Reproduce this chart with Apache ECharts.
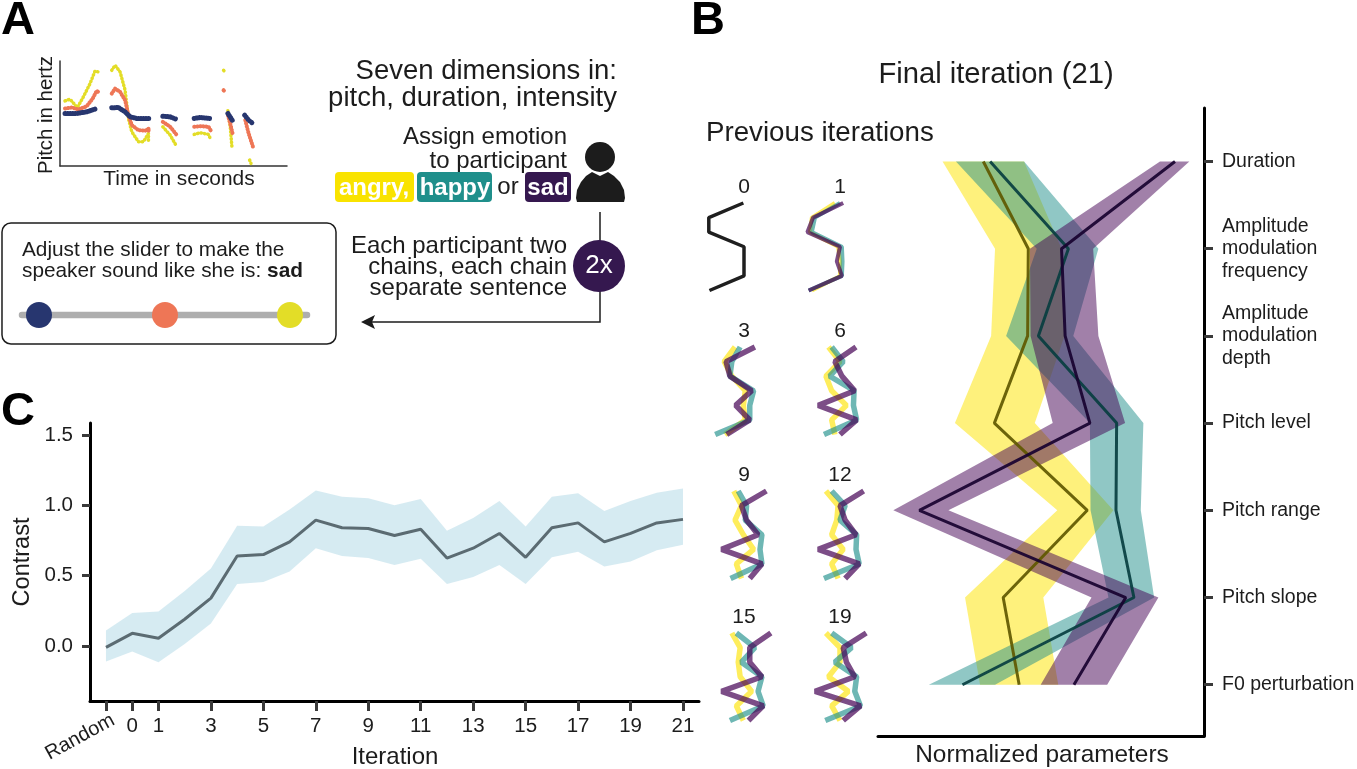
<!DOCTYPE html>
<html><head><meta charset="utf-8">
<style>html,body{margin:0;padding:0;background:#fff}#c{width:1357px;height:769px}</style>
<script src="https://cdn.jsdelivr.net/npm/echarts@6/dist/echarts.min.js"></script>
</head><body><div id="c"></div>
<script>
// ---------- Panel C ----------
const iterations=[-1,0,1,2,3,4,5,6,7,8,9,10,11,12,13,14,15,16,17,18,19,20,21];
const contrastMean=[-0.01,0.09,0.055,0.19,0.34,0.64,0.65,0.74,0.895,0.84,0.835,0.785,0.83,0.625,0.695,0.80,0.63,0.84,0.875,0.74,0.80,0.875,0.90];
const contrastHigh=[0.11,0.235,0.245,0.39,0.55,0.855,0.85,0.97,1.105,1.06,1.05,1.0,1.045,0.82,0.91,1.03,0.85,1.06,1.085,0.96,1.03,1.09,1.12];
const contrastLow=[-0.11,-0.04,-0.115,0.015,0.16,0.44,0.455,0.53,0.695,0.64,0.625,0.575,0.62,0.44,0.49,0.575,0.44,0.63,0.67,0.565,0.60,0.68,0.72];
const iterationTicks=[-1,0,1,3,5,7,9,11,13,15,17,19,21];
const contrastTicks=[0,0.5,1,1.5];
// ---------- Panel B, final iteration ----------
const parameterLabels=['Duration','Amplitude\nmodulation\nfrequency','Amplitude\nmodulation\ndepth','Pitch level','Pitch range','Pitch slope','F0 perturbation'];
const angryMean=[32.3,46.1,45.9,35.7,64.2,38.4,43.3];
const angryLow=[19.8,35.9,34.7,23.6,55.0,26.7,31.3];
const angryHigh=[44.8,56.3,57.2,48.1,72.2,50.7,55.3];
const happyMean=[34.4,58.4,49.2,73.2,73.0,78.5,25.9];
const happyLow=[23.9,48.7,39.3,65.0,65.2,70.7,15.6];
const happyHigh=[44.8,67.6,59.9,81.4,80.6,84.7,35.9];
const sadMean=[91.1,56.3,57.4,65.0,12.7,76.0,60.1];
const sadLow=[86.5,46.6,46.8,53.6,4.7,65.5,49.9];
const sadHigh=[95.5,66.0,67.6,75.8,21.6,86.0,70.3];
// ---------- Panel B, previous iterations ----------
const previousNames=['0','1','3','6','9','12','15','19'];
const prevAngry=[[49,-5,-5,50,50,50,-4],[42,6,3,47,50,50,6],[36,19,31,52,49,52,20],[32,50,28,37,60,37,42],[34,46,36,49,65,38,46],[28,47,45,37,55,37,47],[31,44,41,44,62,38,49],[28,50,50,32,63,37,50]];
const prevHappy=[[49,-5,-5,50,50,50,-4],[50,11,6,53,54,53,1],[44,31,28,65,59,59,5],[37,55,34,72,71,76,25],[41,54,52,78,75,78,29],[37,58,50,76,75,80,25],[38,67,46,78,72,80,28],[37,68,42,76,73,82,27]];
const prevSad=[[49,-5,-5,50,50,50,-4],[55,8,-1,50,45,53,1],[67,22,28,62,37,59,23],[75,42,53,73,16,76,50],[85,46,54,72,15,78,59],[87,50,58,75,16,80,58],[92,59,59,78,15,80,57],[91,55,60,73,11,82,55]];
// ---------- Panel A, pitch contours: time (s), pitch (Hz), contiguous voiced segments ----------
const pitchHigh=[
 [[.075,196],[.15,201],[.26,176],[.35,208],[.45,248],[.525,286],[.575,283]],
 [[.775,288],[.825,303],[.9,283],[.975,228],[1.025,143],[1.075,103],[1.175,73],[1.25,73],[1.325,98],[1.325,73]],
 [[1.54,118],[1.65,93],[1.75,58]],[[2.01,95],[2.1,100],[2.225,95],[2.26,78]],
 [[2.45,288],[2.46,286]],[[2.515,166],[2.55,118],[2.575,58]],[[2.84,18],[2.86,8]]];
const pitchMid=[
 [[.075,173],[.175,176],[.275,170],[.4,180],[.49,203],[.55,226],[.575,223]],
 [[.775,218],[.825,233],[.9,223],[.975,198],[1.025,153],[1.075,123],[1.175,108],[1.275,106],[1.335,113],[1.325,106]],
 [[1.54,133],[1.65,118],[1.75,93]],[[2.01,118],[2.1,120],[2.225,118],[2.26,106]],
 [[2.45,228],[2.46,226]],[[2.515,153],[2.55,128],[2.585,98]],[[2.775,138],[2.825,98],[2.89,58]]];
const pitchLow=[
 [[.075,158],[.25,158],[.4,163],[.55,173]],
 [[.775,175],[.875,176],[.975,163],[1.05,148],[1.15,143],[1.35,143]],
 [[1.54,150],[1.65,148],[1.75,140]],[[2.01,143],[2.1,146],[2.25,143]],
 [[2.515,158],[2.585,136]],[[2.765,153],[2.825,138],[2.89,128]]];

const FONT='"Liberation Sans",Arial,sans-serif';
const INK='#1c1c1c';
const gapped=segs=>{const o=[];segs.forEach((s,i)=>{if(i)o.push([NaN,NaN]);o.push(...s)});return o};
function txt(text,x,y,size,o={}){return Object.assign({type:'text',silent:true,style:{text,x,y,fontSize:size,fontFamily:FONT,fontWeight:o.weight||'normal',fill:o.fill||INK,textAlign:o.align||'left',textVerticalAlign:'middle',rich:o.rich}},o.rotation!==undefined?{rotation:o.rotation,x:x,y:y,style:{text,x:0,y:0,fontSize:size,fontFamily:FONT,fill:o.fill||INK,textAlign:o.align||'center',textVerticalAlign:'middle'}}:{})}
function pill(x,y,w,h,fill,label,tx){return [
 {type:'rect',silent:true,shape:{x,y,width:w,height:h,r:4},style:{fill}},
 txt(label,tx,y+h/2+1,24,{weight:'bold',fill:'#fff',align:'center'})]}

const graphics=[
 txt('A',1,21,47,{weight:'bold',fill:'#000'}),txt('B',691,21,47,{weight:'bold',fill:'#000'}),txt('C',1,412,47,{weight:'bold',fill:'#000'}),
 txt('Pitch in hertz',46,115,20.4,{rotation:Math.PI/2}),
 txt('Time in seconds',179,179,20.9,{align:'center'}),
 txt('Seven dimensions in:',617,71,27.5,{align:'right'}),
 txt('pitch, duration, intensity',617,98,27.5,{align:'right'}),
 txt('Assign emotion',567,137,24,{align:'right'}),
 txt('to participant',567,161,24,{align:'right'}),
 ...pill(335,172,79,30,'#f9e300','angry,',374),
 ...pill(417,172,75,30,'#1f8f8b','happy',455),
 txt('or',508,187,24,{align:'center'}),
 ...pill(525,172,46,30,'#35184f','sad',548),
 {type:'circle',silent:true,shape:{cx:600,cy:157,r:15},style:{fill:INK}},
 {type:'polygon',silent:true,shape:{points:[[576,198],[577,190],[581,182],[586,176],[592,172],[600,176],[608,172],[614,176],[620,182],[624,190],[625,198],[624,202],[577,202]]},style:{fill:INK}},
 {type:'polyline',silent:true,shape:{points:[[600,212],[600,322],[372,322]]},style:{stroke:INK,lineWidth:1.5,fill:null}},
 {type:'polygon',silent:true,shape:{points:[[361,322],[375,315],[372,322],[375,329]]},style:{fill:INK}},
 {type:'circle',silent:true,shape:{cx:599,cy:266,r:26},style:{fill:'#35184f'}},
 txt('2x',599,266,26,{align:'center',fill:'#fff'}),
 txt('Each participant two',567,246,24,{align:'right'}),
 txt('chains, each chain',567,267,24,{align:'right'}),
 txt('separate sentence',567,288,24,{align:'right'}),
 {type:'rect',silent:true,shape:{x:2,y:223,width:334,height:121,r:9},style:{fill:null,stroke:INK,lineWidth:1.5}},
 txt('Adjust the slider to make the',22,250,20.8,{}),
 {type:'text',silent:true,style:{text:'speaker sound like she is: {b|sad}',x:22,y:271,fontSize:20.8,fontFamily:FONT,fill:INK,textVerticalAlign:'middle',rich:{b:{fontSize:20.8,fontFamily:FONT,fontWeight:'bold',fill:INK}}}},
 {type:'line',silent:true,shape:{x1:22,y1:315,x2:307,y2:315},style:{stroke:'#aeaeae',lineWidth:6.5,lineCap:'round'}},
 {type:'circle',silent:true,shape:{cx:39,cy:315,r:13},style:{fill:'#27366f'}},
 {type:'circle',silent:true,shape:{cx:165,cy:315,r:13},style:{fill:'#ee7656'}},
 {type:'circle',silent:true,shape:{cx:290,cy:315,r:13},style:{fill:'#e3dd27'}},
 txt('Final iteration (21)',996,75,29.2,{align:'center'}),
 txt('Previous iterations',706,133,27.7,{}),
 txt('Normalized parameters',1042,755,24.4,{align:'center'}),
 txt('Contrast',23,562,23.5,{rotation:Math.PI/2}),
 txt('Iteration',395,757,24,{align:'center'}),
 {type:'text',silent:true,rotation:0.5,x:80,y:737,style:{text:'Random',x:0,y:0,fontSize:20,fontFamily:FONT,fill:INK,textAlign:'center',textVerticalAlign:'middle'}},
];

const grids=[],xAxes=[],yAxes=[],series=[];
function addGrid(g,x,y){grids.push(Object.assign({outerBoundsMode:'none',containLabel:false},g));xAxes.push(Object.assign({gridIndex:grids.length-1,type:'value'},x));yAxes.push(Object.assign({gridIndex:grids.length-1,type:'value'},y));return grids.length-1}
function band(gi,items,toCoord,fill){
 series.push({type:'custom',xAxisIndex:gi,yAxisIndex:gi,silent:true,clip:false,animation:false,data:items,
  dimensions:['a','b','c'],encode:{x:[0,1],y:2},
  renderItem:(p,api)=>{ if(p.dataIndex!==0)return null;
   const pts=toCoord(items).map(d=>api.coord(d));
   return {type:'polygon',shape:{points:pts},style:{fill}}}});
}
const HIDE={show:false};

// Panel A contour plot
const gA=addGrid({left:60,top:61,width:227,height:105},
 {min:0,max:3.4,axisLine:{show:true,onZero:false,lineStyle:{color:'#333',width:1.5}},axisTick:HIDE,axisLabel:HIDE,splitLine:HIDE},
 {min:0,max:316,axisLine:{show:true,onZero:false,lineStyle:{color:'#333',width:1.5}},axisTick:HIDE,axisLabel:HIDE,splitLine:HIDE});
[[pitchHigh,'#e3dd27',[0.5,3],3.5],[pitchMid,'#ee7656',[0.5,2.5],4],[pitchLow,'#27366f',[0.5,2],5]].forEach(([d,c,t,w])=>{
 series.push({type:'line',xAxisIndex:gA,yAxisIndex:gA,data:gapped(d),showSymbol:false,silent:true,animation:false,connectNulls:false,clip:false,
  lineStyle:{color:c,width:w,type:t,cap:'round'}})});

// Panel C
const gC=addGrid({left:90,top:423,width:609,height:278},
 {min:-1.61,max:21.61,axisLine:{onZero:false,lineStyle:{color:'#000',width:3}},
  axisTick:{customValues:iterationTicks,length:10,lineStyle:{color:'#3a3a3a',width:3}},
  axisLabel:{customValues:iterationTicks.slice(1),formatter:v=>String(v),fontSize:20.5,fontFamily:FONT,color:INK,margin:15},splitLine:HIDE},
 {min:-0.391,max:1.585,axisLine:{show:true,onZero:false,lineStyle:{color:'#000',width:3}},
  axisTick:{show:true,customValues:contrastTicks,length:8,lineStyle:{color:'#3a3a3a',width:3}},
  axisLabel:{customValues:contrastTicks,formatter:v=>v.toFixed(1),fontSize:20.5,fontFamily:FONT,color:INK,margin:17},splitLine:HIDE});
band(gC,iterations.map((t,i)=>[t,t,contrastLow[i]]),()=>[
  ...iterations.map((t,i)=>[t,contrastHigh[i]]),
  ...iterations.map((t,i)=>[t,contrastLow[i]]).reverse()],'rgba(173,216,230,.5)');
series.push({type:'line',xAxisIndex:gC,yAxisIndex:gC,data:iterations.map((t,i)=>[t,contrastMean[i]]),showSymbol:false,silent:true,animation:false,lineStyle:{color:'#5b6b72',width:3}});

// Panel B final iteration
const rows=[0,1,2,3,4,5,6];
const gB=addGrid({left:878,top:108,width:326,height:628},
 {min:0,max:100,axisLine:{onZero:false,lineStyle:{color:'#000',width:3}},axisTick:HIDE,axisLabel:HIDE,splitLine:HIDE},
 {min:-0.6135,max:6.588,inverse:true,position:'right',axisLine:{show:true,onZero:false,lineStyle:{color:'#000',width:3}},
  axisTick:{show:true,customValues:rows,length:9,lineStyle:{color:'#3a3a3a',width:3}},
  axisLabel:{customValues:rows,formatter:v=>parameterLabels[v],align:'left',fontSize:19.5,lineHeight:22.5,fontFamily:FONT,color:INK,margin:18},splitLine:HIDE});
[[angryLow,angryHigh,'rgba(253,231,37,.6)'],
 [happyLow,happyHigh,'rgba(33,144,140,.5)'],
 [sadLow,sadHigh,'rgba(68,1,84,.5)']].forEach(([lo,hi,f])=>{
  band(gB,rows.map(r=>[lo[r],hi[r],r]),()=>[...rows.map(r=>[lo[r],r]),...rows.map(r=>[hi[r],r]).reverse()],f);
});
[[angryMean,'rgba(95,88,0,.92)'],[happyMean,'rgba(8,62,64,.92)'],[sadMean,'rgba(24,2,48,.92)']].forEach(([m,s])=>{
  series.push({type:'line',xAxisIndex:gB,yAxisIndex:gB,data:rows.map(r=>[m[r],r]),showSymbol:false,silent:true,animation:false,lineStyle:{color:s,width:3}});
});

// Panel B small multiples
const smallTop=[203,203,347,347,491,491,633,633];
previousNames.forEach((name,k)=>{
 const left=k%2?795.2:699.2, top=smallTop[k];
 const g=addGrid({left,top,width:83.2,height:87.5},
  {min:-20,max:110,show:false},{min:0,max:6,inverse:true,show:false});
 const sets=k===0?[[prevSad[0],'#1f1f1f',1]]:
   [[prevAngry[k],'#fde725',.75],[prevHappy[k],'#21908c',.65],[prevSad[k],'#440154',.7]];
 sets.forEach(([v,c,a])=>series.push({type:'line',xAxisIndex:g,yAxisIndex:g,data:rows.map(r=>[v[r],r]),showSymbol:false,silent:true,animation:false,clip:false,lineStyle:{color:c,width:k===0?3.5:(k===1?4:5.5),opacity:a}}));
 graphics.push(txt(name,k%2?840:744,top-16,21,{align:'center'}));
});

const chart=echarts.init(document.getElementById('c'),null,{renderer:'canvas'});
chart.setOption({animation:false,backgroundColor:'#fff',textStyle:{fontFamily:FONT},grid:grids,xAxis:xAxes,yAxis:yAxes,series,graphic:{elements:graphics}});
</script></body></html>
